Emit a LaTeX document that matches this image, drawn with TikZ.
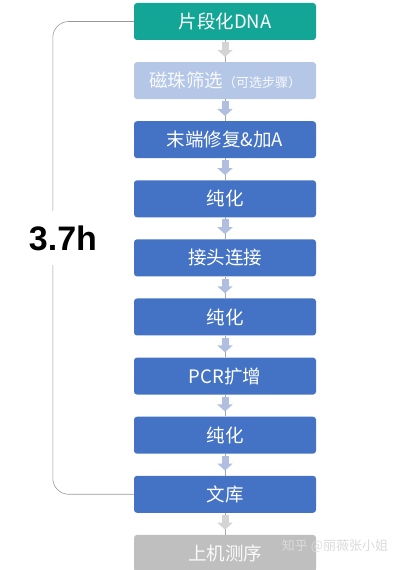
\documentclass[tikz,border=0pt]{standalone}
\usepackage{fontspec}
\setmainfont{Liberation Sans}
\newfontfamily\cjk{Noto Sans CJK SC}
\usetikzlibrary{positioning,arrows.meta}
\definecolor{stepteal}{RGB}{19,166,150}
\definecolor{steplight}{RGB}{180,199,231}
\definecolor{stepblue}{RGB}{68,114,196}
\definecolor{stepgrey}{RGB}{191,191,191}
\definecolor{arrowblue}{RGB}{176,190,224}
\definecolor{arrowgrey}{RGB}{212,212,212}
\tikzstyle{stepbox} = [rectangle,rounded corners=3pt,minimum width=182pt,minimum height=37pt,inner sep=0pt,text=white,font=\cjk\fontsize{18.5}{18.5}\selectfont]
\tikzstyle{flow} = [line width=7pt,-{Triangle[width=15pt,length=7pt]},shorten <=2pt,shorten >=5pt]
\tikzstyle{bracket} = [draw=black!40,line width=0.6pt,rounded corners=16pt]

\begin{document}
\begin{tikzpicture}[x=1pt,y=1pt,node distance=21.7pt]
	\useasboundingbox (0,0) rectangle (402,570);
	\node[stepbox,fill=stepteal] (dna) at (225,548.5) {片段化DNA};
	\node[stepbox,fill=steplight,text=white!90!steplight] (beads) [below=of dna] {磁珠筛选{\fontsize{13}{13}\selectfont （可选步骤）}};
	\node[stepbox,fill=stepblue] (repair) [below=of beads] {末端修复\&加A};
	\node[stepbox,fill=stepblue] (pure1) [below=of repair] {纯化};
	\node[stepbox,fill=stepblue] (ligate) [below=of pure1] {接头连接};
	\node[stepbox,fill=stepblue] (pure2) [below=of ligate] {纯化};
	\node[stepbox,fill=stepblue] (pcr) [below=of pure2] {PCR扩增};
	\node[stepbox,fill=stepblue] (pure3) [below=of pcr] {纯化};
	\node[stepbox,fill=stepblue] (lib) [below=of pure3] {文库};
	\node[stepbox,fill=stepgrey,text=white!92!stepgrey] (seq) [below=of lib] {上机测序};
	% arrows between the steps
	\foreach \a/\b/\c in {dna/beads/arrowgrey,beads/repair/arrowblue,repair/pure1/arrowblue,pure1/ligate/arrowblue,ligate/pure2/arrowblue,pure2/pcr/arrowblue,pcr/pure3/arrowblue,pure3/lib/arrowblue,lib/seq/arrowgrey}
	{
		\draw[black!35,line width=0.5pt] (\a.south) -- (\b.north);
		\draw[flow,\c] (\a.south) -- (\b.north);
	}
	% time bracket
	\draw[bracket] (dna.west) -- ++(-81,0) |- (lib.west);
	\node[fill=white,inner xsep=0pt,minimum height=54pt,font=\bfseries\fontsize{34}{34}\selectfont] (time) at (63,332) {3.7h};
	\node[font=\cjk\fontsize{13}{13}\selectfont,text=white!86!black] (mark) at (335,24) {知乎 @丽薇张小姐};
\end{tikzpicture}
\end{document}
